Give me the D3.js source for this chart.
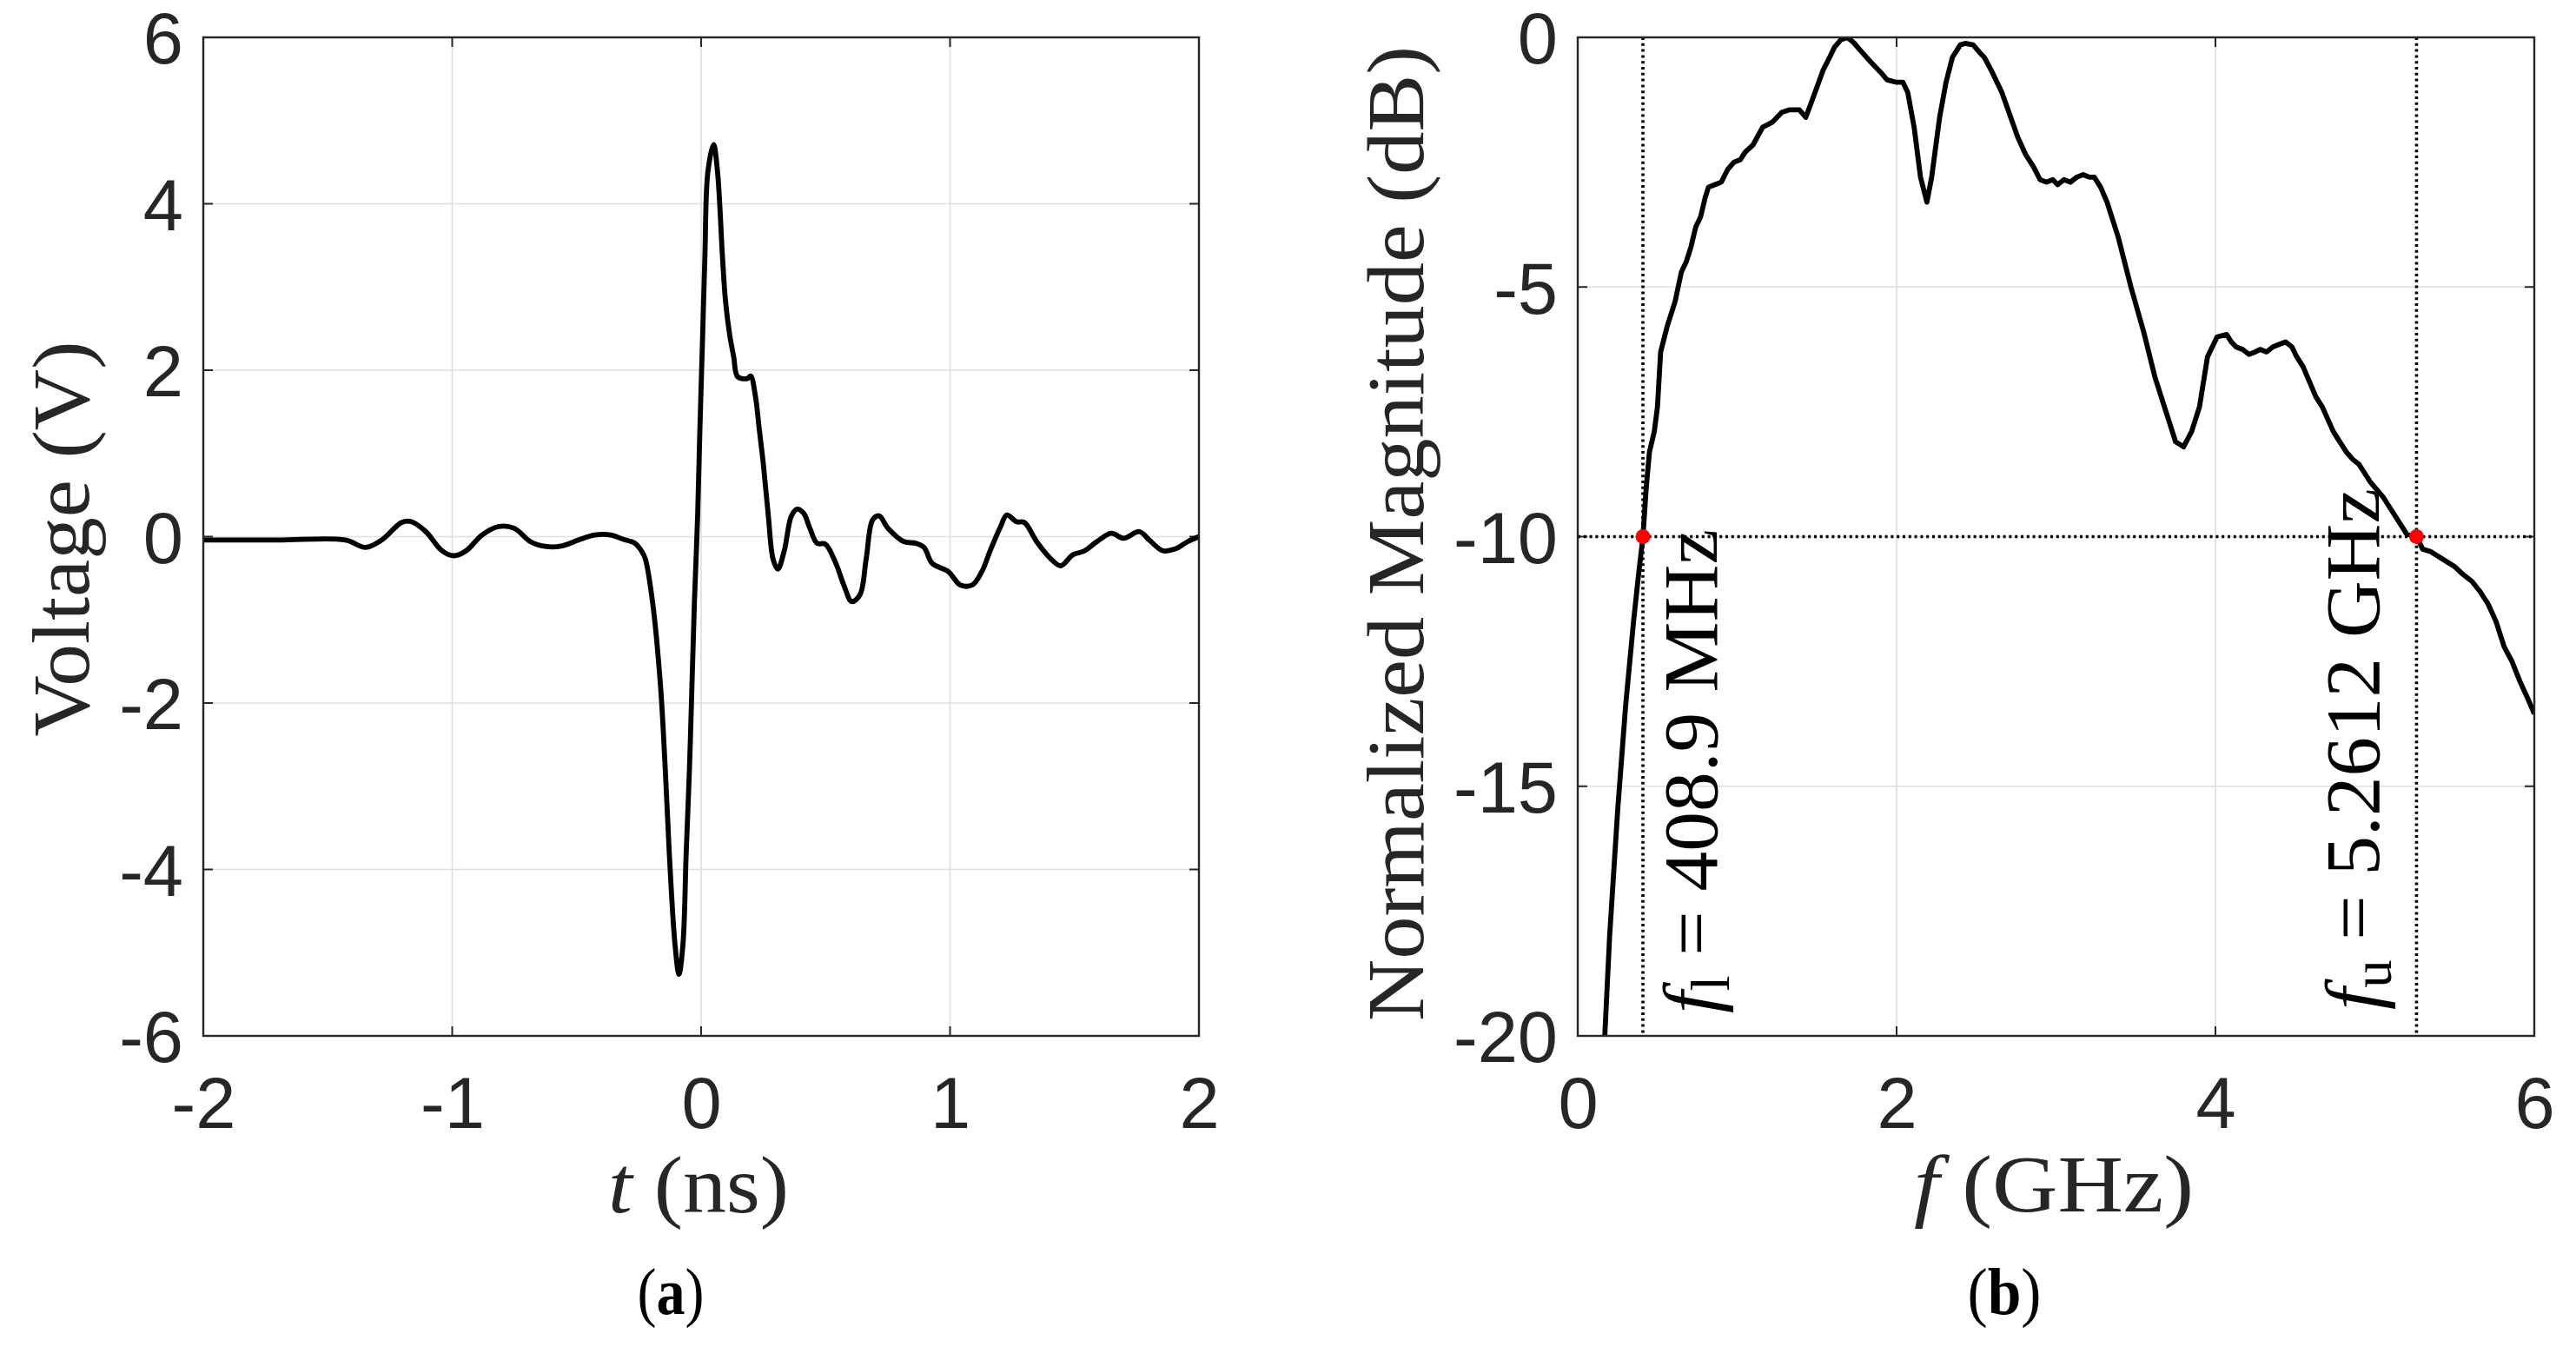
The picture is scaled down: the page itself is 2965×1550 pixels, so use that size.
<!DOCTYPE html>
<html><head><meta charset="utf-8">
<script src="https://cdn.jsdelivr.net/npm/d3@7"></script>
<style>body{margin:0;background:#fff}svg{display:block}</style>
</head><body>
<svg id="c" width="2965" height="1550"></svg>
<script>
// ---------------- data ----------------
const tTime = [-2.000,-1.700,-1.429,-1.348,-1.283,-1.203,-1.164,-1.106,-1.041,-0.993,-0.944,-0.880,-0.815,-0.751,-0.686,-0.621,-0.557,-0.492,-0.428,-0.363,-0.315,-0.266,-0.240,-0.224,-0.195,-0.163,-0.144,-0.128,-0.105,-0.089,-0.073,-0.060,-0.047,-0.037,-0.027,-0.014,-0.005,0.005,0.015,0.027,0.050,0.066,0.086,0.098,0.115,0.131,0.147,0.186,0.199,0.218,0.234,0.250,0.270,0.289,0.308,0.334,0.363,0.386,0.412,0.437,0.466,0.499,0.541,0.573,0.605,0.638,0.663,0.689,0.715,0.751,0.815,0.864,0.896,0.928,0.993,1.041,1.090,1.128,1.161,1.203,1.228,1.267,1.299,1.348,1.406,1.445,1.493,1.541,1.590,1.648,1.697,1.761,1.800,1.855,1.903,1.955,2.000];
const vVolt = [-0.04,-0.04,-0.04,-0.13,-0.04,0.17,0.18,0.06,-0.17,-0.23,-0.17,0.02,0.12,0.10,-0.06,-0.12,-0.11,-0.04,0.02,0.02,-0.03,-0.08,-0.17,-0.27,-0.79,-1.80,-2.80,-3.80,-4.90,-5.26,-4.90,-3.80,-2.80,-1.80,-0.79,0.25,1.28,2.30,3.35,4.38,4.71,4.38,3.35,2.83,2.42,2.16,1.92,1.90,1.93,1.69,1.28,0.87,0.25,-0.27,-0.39,-0.17,0.25,0.33,0.28,0.10,-0.08,-0.09,-0.32,-0.58,-0.78,-0.70,-0.27,0.20,0.25,0.10,-0.06,-0.08,-0.13,-0.32,-0.42,-0.58,-0.58,-0.42,-0.17,0.12,0.26,0.18,0.17,-0.06,-0.27,-0.35,-0.22,-0.17,-0.06,0.04,-0.02,0.06,-0.04,-0.17,-0.15,-0.06,0.00];

const fFreq = [0.165,0.20,0.25,0.30,0.35,0.38,0.409,0.43,0.45,0.48,0.50,0.52,0.56,0.61,0.65,0.68,0.71,0.74,0.77,0.80,0.82,0.86,0.90,0.94,0.98,1.02,1.05,1.10,1.16,1.22,1.28,1.33,1.39,1.43,1.46,1.50,1.54,1.58,1.61,1.65,1.69,1.73,1.77,1.84,1.90,1.94,2.00,2.04,2.07,2.11,2.15,2.19,2.22,2.27,2.31,2.35,2.40,2.43,2.48,2.52,2.55,2.60,2.66,2.71,2.76,2.81,2.86,2.90,2.94,2.98,3.01,3.05,3.09,3.13,3.17,3.21,3.24,3.28,3.32,3.39,3.47,3.55,3.62,3.70,3.75,3.80,3.85,3.90,3.95,4.01,4.07,4.10,4.13,4.17,4.21,4.25,4.28,4.32,4.36,4.40,4.44,4.48,4.51,4.55,4.59,4.63,4.67,4.74,4.78,4.82,4.86,4.90,4.97,5.05,5.13,5.20,5.2612,5.30,5.35,5.40,5.45,5.50,5.55,5.61,5.66,5.71,5.76,5.81,5.86,5.91,5.96,6.00];
const magDb = [-20.3,-18.0,-15.5,-13.4,-11.7,-10.8,-10.0,-9.0,-8.3,-7.9,-7.4,-6.3,-5.8,-5.3,-4.7,-4.5,-4.2,-3.8,-3.6,-3.2,-3.0,-2.95,-2.9,-2.65,-2.5,-2.45,-2.3,-2.15,-1.8,-1.7,-1.5,-1.45,-1.45,-1.6,-1.35,-1.0,-0.65,-0.4,-0.2,-0.05,0.0,-0.1,-0.25,-0.5,-0.7,-0.85,-0.9,-0.9,-1.1,-1.8,-2.8,-3.3,-2.8,-1.6,-0.9,-0.4,-0.15,-0.12,-0.15,-0.3,-0.4,-0.7,-1.1,-1.55,-2.0,-2.35,-2.6,-2.85,-2.9,-2.85,-2.95,-2.85,-2.9,-2.8,-2.75,-2.8,-2.8,-3.0,-3.3,-4.0,-5.0,-5.9,-6.8,-7.6,-8.1,-8.2,-7.9,-7.4,-6.4,-6.0,-5.95,-6.1,-6.2,-6.25,-6.35,-6.3,-6.25,-6.3,-6.2,-6.15,-6.1,-6.2,-6.4,-6.6,-6.9,-7.2,-7.4,-7.9,-8.1,-8.3,-8.45,-8.55,-8.9,-9.2,-9.6,-9.95,-10.0,-10.25,-10.3,-10.4,-10.5,-10.6,-10.75,-10.9,-11.1,-11.35,-11.7,-12.2,-12.5,-12.9,-13.25,-13.55];

const xTicksA = [-2,-1,0,1,2];
const yTicksA = [-6,-4,-2,0,2,4,6];
const xTicksB = [0,2,4,6];
const yTicksB = [-20,-15,-10,-5,0];
const cutoffFreq = [0.4089, 5.2612];
const cutoffLevel = -10;

// ---------------- drawing ----------------
const svg = d3.select("#c");
const TICK_FONT = "'Liberation Sans', Arial, Helvetica, sans-serif";
const SERIF = "'Liberation Serif', 'Times New Roman', serif";
const AX = "#262626";

function panel(box, xDom, yDom, xTicks, yTicks, id) {
  const x = d3.scaleLinear().domain(xDom).range([box.x0, box.x1]);
  const y = d3.scaleLinear().domain(yDom).range([box.y1, box.y0]);
  const g = svg.append("g");
  g.append("g").selectAll("line").data(xTicks).join("line")
    .attr("x1", d => x(d)).attr("x2", d => x(d)).attr("y1", box.y0).attr("y2", box.y1)
    .attr("stroke", "#dfdfdf").attr("stroke-width", 1.6);
  g.append("g").selectAll("line").data(yTicks).join("line")
    .attr("y1", d => y(d)).attr("y2", d => y(d)).attr("x1", box.x0).attr("x2", box.x1)
    .attr("stroke", "#dfdfdf").attr("stroke-width", 1.6);
  const tl = 11;
  const tk = g.append("g").attr("stroke", AX).attr("stroke-width", 2);
  tk.selectAll(".b").data(xTicks).join("line").attr("x1", d => x(d)).attr("x2", d => x(d)).attr("y1", box.y1).attr("y2", box.y1 - tl);
  tk.selectAll(".t").data(xTicks).join("line").attr("x1", d => x(d)).attr("x2", d => x(d)).attr("y1", box.y0).attr("y2", box.y0 + tl);
  tk.selectAll(".l").data(yTicks).join("line").attr("y1", d => y(d)).attr("y2", d => y(d)).attr("x1", box.x0).attr("x2", box.x0 + tl);
  tk.selectAll(".r").data(yTicks).join("line").attr("y1", d => y(d)).attr("y2", d => y(d)).attr("x1", box.x1).attr("x2", box.x1 - tl);
  const ax = g.append("g").attr("transform", `translate(0,${box.y1})`)
    .call(d3.axisBottom(x).tickValues(xTicks).tickSize(0).tickPadding(47).tickFormat(d => String(d)));
  const ay = g.append("g").attr("transform", `translate(${box.x0},0)`)
    .call(d3.axisLeft(y).tickValues(yTicks).tickSize(0).tickPadding(23).tickFormat(d => String(d)));
  [ax, ay].forEach(a => {
    a.select(".domain").remove();
    a.selectAll("text").attr("font-family", TICK_FONT).attr("font-size", 83).attr("fill", AX);
  });
  ay.selectAll("text").attr("dy", "0.36em");
  svg.append("clipPath").attr("id", id).append("rect")
    .attr("x", box.x0).attr("y", box.y0).attr("width", box.x1 - box.x0).attr("height", box.y1 - box.y0);
  return {x, y, g};
}

// Panel (a)
const boxA = {x0: 234, x1: 1380, y0: 43, y1: 1192};
const pA = panel(boxA, [-2, 2], [-6, 6], xTicksA, yTicksA, "clipA");
const lineA = d3.line().x((d, i) => pA.x(tTime[i])).y((d, i) => pA.y(vVolt[i])).curve(d3.curveCatmullRom.alpha(0.5));
pA.g.append("path").datum(tTime).attr("d", lineA).attr("fill", "none").attr("stroke", "#000")
  .attr("stroke-width", 5.8).attr("stroke-linejoin", "round").attr("clip-path", "url(#clipA)");
pA.g.append("rect").attr("x", boxA.x0).attr("y", boxA.y0).attr("width", boxA.x1 - boxA.x0).attr("height", boxA.y1 - boxA.y0)
  .attr("fill", "none").attr("stroke", AX).attr("stroke-width", 2.4);

// Panel (b)
const boxB = {x0: 1816, x1: 2917, y0: 43, y1: 1192};
const pB = panel(boxB, [0, 6], [-20, 0], xTicksB, yTicksB, "clipB");
const dotted = pB.g.append("g").attr("stroke", "#000").attr("stroke-width", 3.6).attr("stroke-dasharray", "3,3.8");
dotted.append("line").attr("x1", boxB.x0).attr("x2", boxB.x1).attr("y1", pB.y(cutoffLevel)).attr("y2", pB.y(cutoffLevel));
dotted.selectAll(".v").data(cutoffFreq).join("line")
  .attr("x1", d => pB.x(d)).attr("x2", d => pB.x(d)).attr("y1", boxB.y0).attr("y2", boxB.y1);
const lineB = d3.line().x((d, i) => pB.x(fFreq[i])).y((d, i) => pB.y(magDb[i]));
pB.g.append("path").datum(fFreq).attr("d", lineB).attr("fill", "none").attr("stroke", "#000")
  .attr("stroke-width", 5.8).attr("stroke-linejoin", "round").attr("clip-path", "url(#clipB)");
pB.g.selectAll(".pt").data(cutoffFreq).join("circle")
  .attr("cx", d => pB.x(d)).attr("cy", pB.y(cutoffLevel)).attr("r", 8.5).attr("fill", "#ff0000");
pB.g.append("rect").attr("x", boxB.x0).attr("y", boxB.y0).attr("width", boxB.x1 - boxB.x0).attr("height", boxB.y1 - boxB.y0)
  .attr("fill", "none").attr("stroke", AX).attr("stroke-width", 2.4);

// ---------------- texts ----------------
function label(tx, ty, rot, anchor, len, size, color, parts) {
  const t = svg.append("text").attr("transform", `translate(${tx},${ty}) rotate(${rot})`)
    .attr("text-anchor", anchor).attr("font-family", SERIF).attr("font-size", size).attr("fill", color)
    .attr("textLength", len).attr("lengthAdjust", "spacingAndGlyphs");
  parts.forEach(p => {
    const s = t.append("tspan").text(p.t);
    if (p.it) s.attr("font-style", "italic");
    if (p.b) s.attr("font-weight", "bold");
    if (p.fs) s.attr("font-size", p.fs);
    if (p.dy) s.attr("dy", p.dy);
  });
  return t;
}
label(804, 1395, 0, "middle", 208, 93, AX, [{t: "t", it: true}, {t: " (ns)"}]);
label(2364, 1394, 0, "middle", 322, 93, AX, [{t: "f", it: true}, {t: " (GHz)"}]);
label(102, 620, -90, "middle", 455, 93, AX, [{t: "Voltage (V)"}]);
label(1638, 614, -90, "middle", 1122, 93, AX, [{t: "Normalized Magnitude (dB)"}]);
label(1976, 1166, -90, "start", 557, 89, "#000",
  [{t: "f", it: true}, {t: "l", fs: 63, dy: 14}, {t: " = 408.9 MHz", dy: -14}]);
label(2738, 1162, -90, "start", 600, 89, "#000",
  [{t: "f", it: true}, {t: "u", fs: 63, dy: 14}, {t: " = 5.2612 GHz", dy: -14}]);
label(772, 1512, 0, "middle", 77, 76, "#000", [{t: "("}, {t: "a", b: true}, {t: ")"}]);
label(2307, 1512, 0, "middle", 85, 76, "#000", [{t: "("}, {t: "b", b: true}, {t: ")"}]);
</script>
</body></html>
